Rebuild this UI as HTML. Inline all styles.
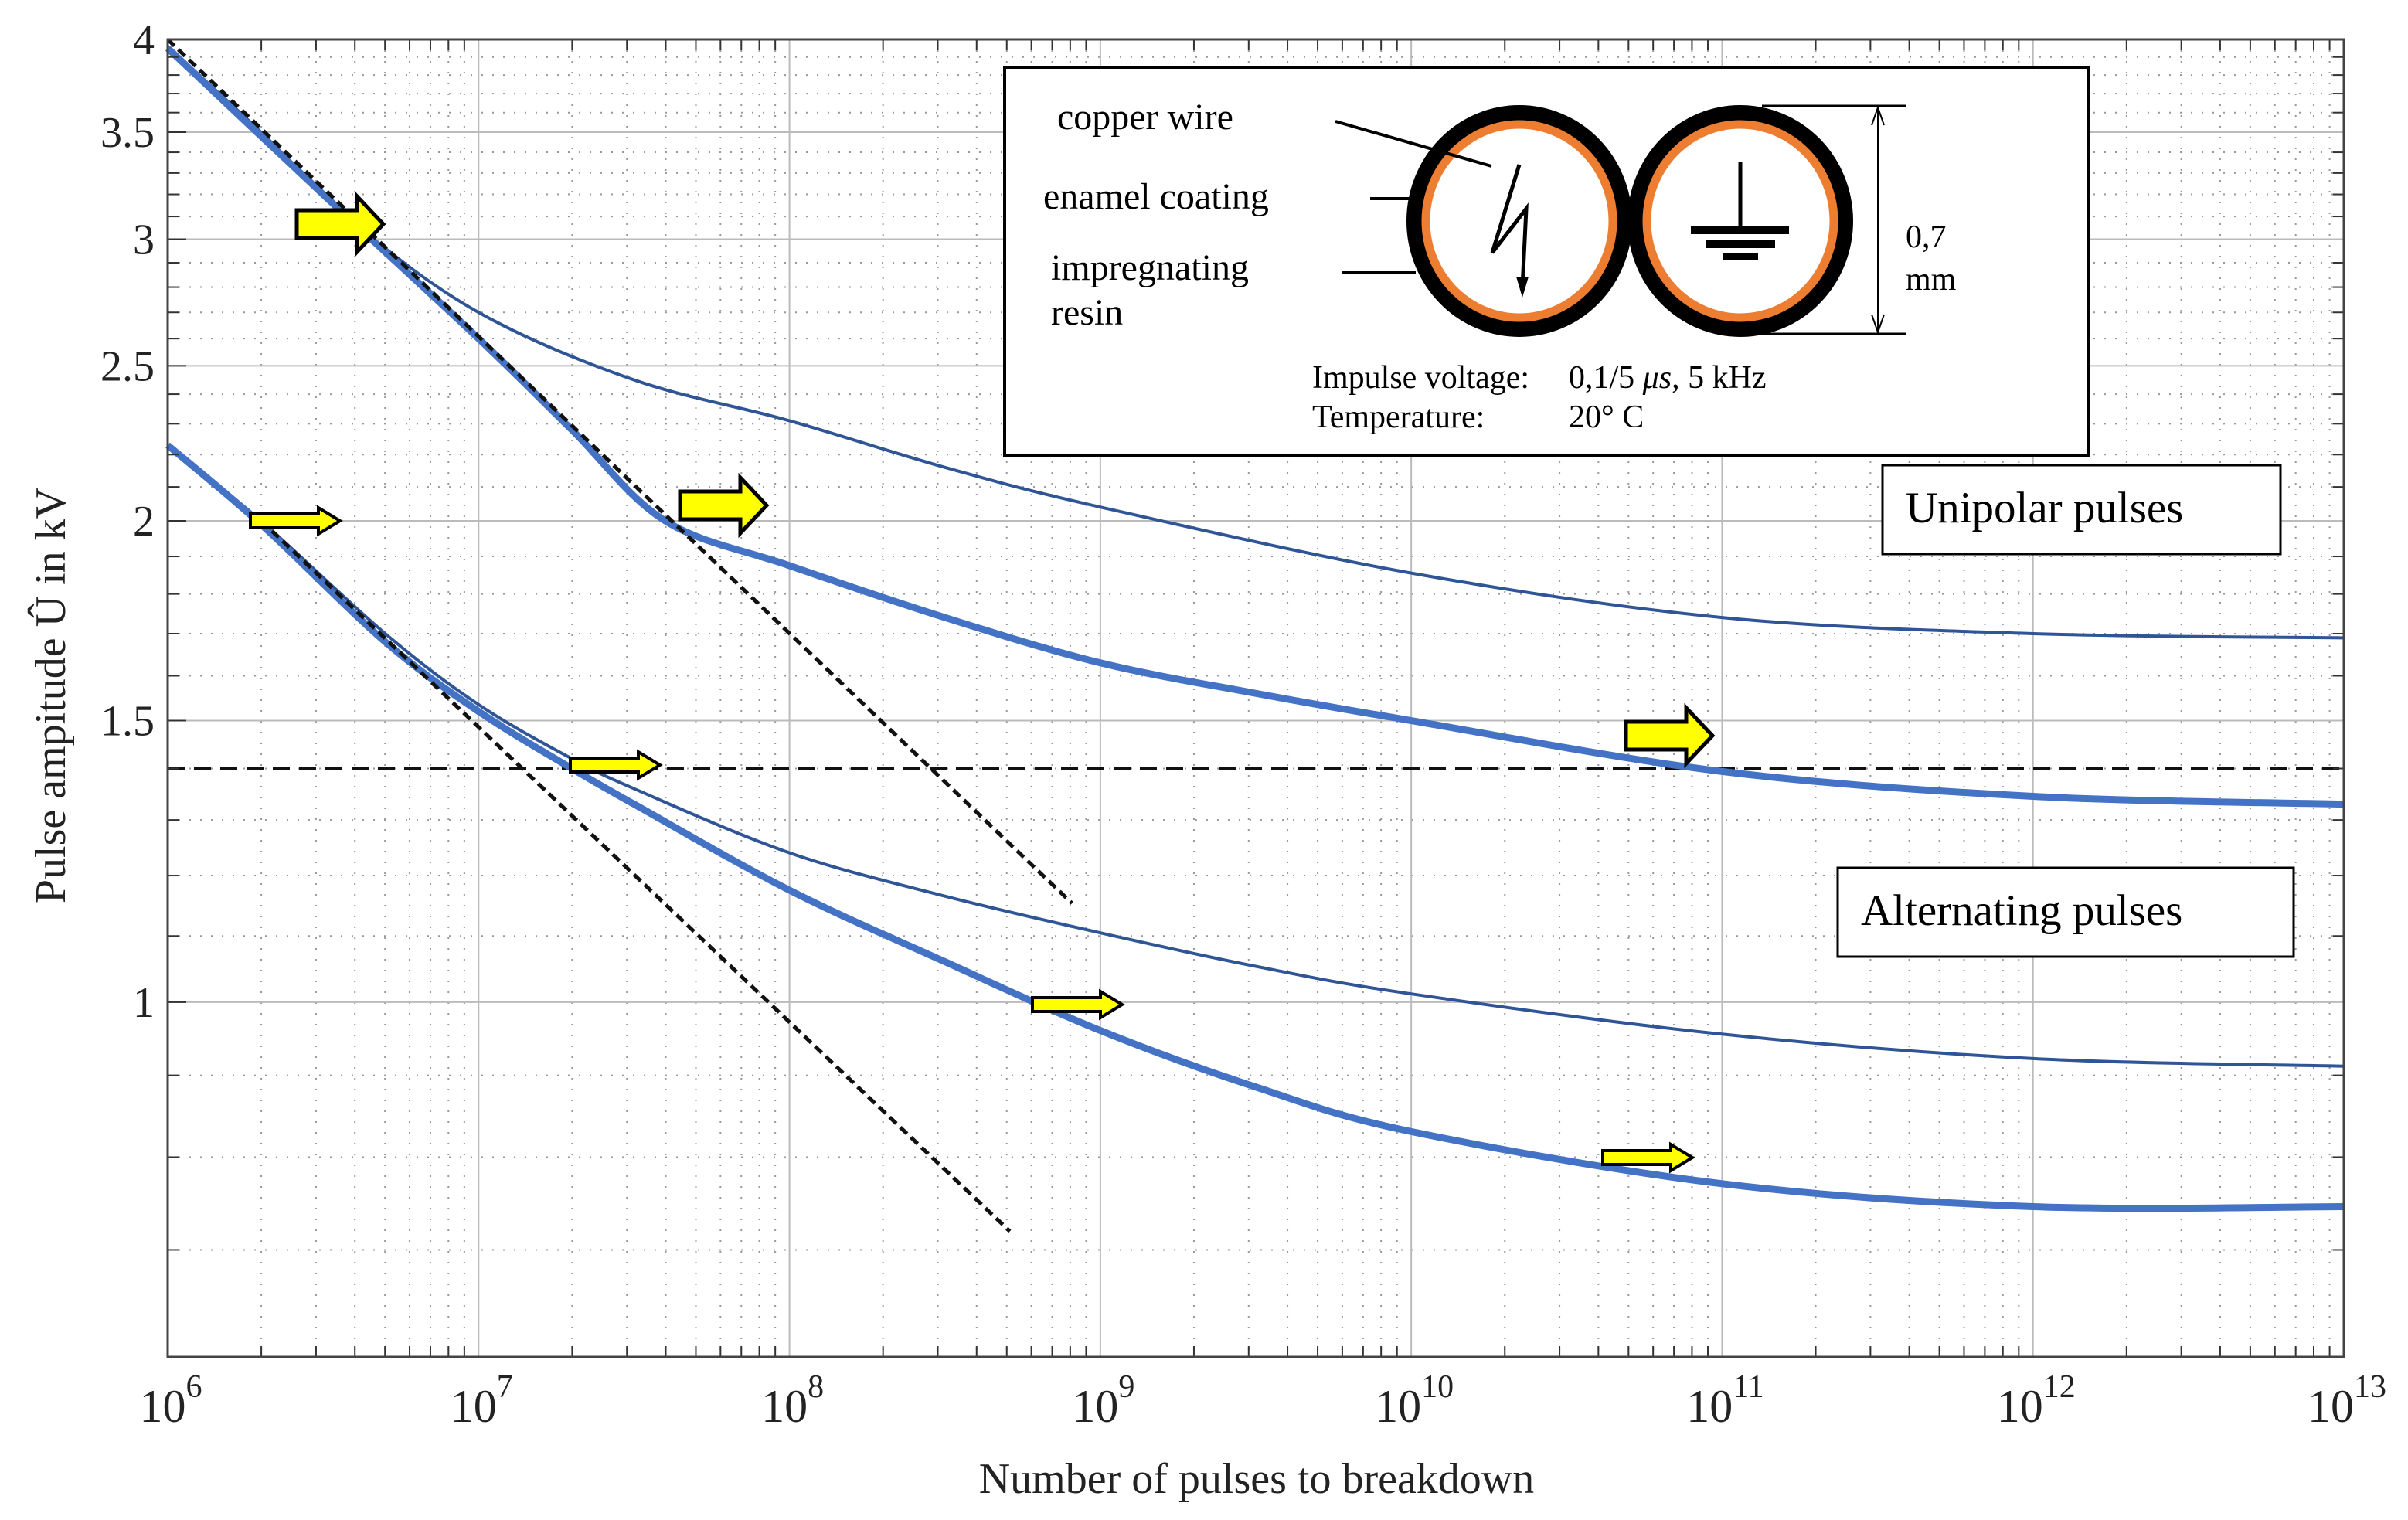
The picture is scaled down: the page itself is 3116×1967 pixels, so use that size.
<!DOCTYPE html>
<html><head><meta charset="utf-8"><style>
html,body{margin:0;padding:0;background:#fff;}
svg{display:block;font-family:"Liberation Serif",serif;}
</style></head><body>
<svg id="chart" width="3116" height="1967" viewBox="0 0 3116 1967" xmlns="http://www.w3.org/2000/svg">
<g id="grid"></g>
<g id="ref"></g>
<g id="series"></g>
<g id="arrows"></g>
<g id="axes"></g>

<g>
<rect x="1300" y="87" width="1402" height="502" fill="#fff" stroke="#000" stroke-width="4"/>
<g transform="translate(-10,0)">
<text x="1378" y="167" font-size="48">copper wire</text>
<text x="1360" y="270" font-size="48">enamel coating</text>
<text x="1370" y="362" font-size="48">impregnating</text>
<text x="1370" y="420" font-size="48">resin</text>
<ellipse cx="1976" cy="286" rx="136" ry="140" fill="none" stroke="#000" stroke-width="20"/>
<ellipse cx="1976" cy="286" rx="121" ry="125" fill="#fff" stroke="#ED7D31" stroke-width="11"/>
<ellipse cx="2262" cy="286" rx="136" ry="140" fill="none" stroke="#000" stroke-width="20"/>
<ellipse cx="2262" cy="286" rx="121" ry="125" fill="#fff" stroke="#ED7D31" stroke-width="11"/>
<line x1="1738" y1="157" x2="1940" y2="215" stroke="#000" stroke-width="4"/>
<line x1="1783" y1="257" x2="1852" y2="257" stroke="#000" stroke-width="4"/>
<line x1="1747" y1="353" x2="1842" y2="353" stroke="#000" stroke-width="4"/>
<polyline points="1976,213 1941,327 1985,270 1980,372" fill="none" stroke="#000" stroke-width="5"/>
<polygon points="1972,358 1988,358 1980,385" fill="#000"/>
<g>
<line x1="2262" y1="210" x2="2262" y2="295" stroke="#000" stroke-width="5"/>
<rect x="2198" y="293" width="127" height="10" fill="#000"/>
<rect x="2217" y="311" width="90" height="10" fill="#000"/>
<rect x="2239" y="327" width="46" height="10" fill="#000"/>
</g>
<g>
<line x1="2290" y1="137" x2="2476" y2="137" stroke="#000" stroke-width="3"/>
<line x1="2290" y1="432" x2="2476" y2="432" stroke="#000" stroke-width="3"/>
<line x1="2440" y1="139" x2="2440" y2="430" stroke="#000" stroke-width="2"/>
<polyline points="2432,162 2440,139 2448,162" fill="none" stroke="#000" stroke-width="2"/>
<polyline points="2432,407 2440,430 2448,407" fill="none" stroke="#000" stroke-width="2"/>
</g>
<text x="2476" y="320" font-size="42">0,7</text>
<text x="2476" y="375" font-size="42">mm</text>
<text x="1708" y="502" font-size="42">Impulse voltage:</text>
<text x="2040" y="502" font-size="42">0,1/5 <tspan font-style="italic">μs</tspan>, 5 kHz</text>
<text x="1708" y="553" font-size="42">Temperature:</text>
<text x="2040" y="553" font-size="42">20° C</text>
</g>
</g>

<g>
<rect x="2436" y="602" width="515" height="115" fill="#fff" stroke="#000" stroke-width="3"/>
<text x="2466" y="676" font-size="57">Unipolar pulses</text>
</g>
<g>
<rect x="2378" y="1123" width="590" height="115" fill="#fff" stroke="#000" stroke-width="3"/>
<text x="2408" y="1197" font-size="57">Alternating pulses</text>
</g>
<text x="1626" y="1932" font-size="56" text-anchor="middle" fill="#222">Number of pulses to breakdown</text>
<text transform="translate(84,900) rotate(-90)" font-size="56" text-anchor="middle" fill="#222">Pulse ampitude Û in kV</text>
</svg>
<script>
// data (x as log10 of pulse count, y in kV)
const unipolarThinX = [6, 6.3, 6.6, 7, 7.5, 8, 8.5, 9, 10, 11, 12, 13];
const unipolarThin = [3.96, 3.5, 3.07, 2.70, 2.45, 2.31, 2.16, 2.04, 1.855, 1.74, 1.70, 1.69];
const unipolarThickX = [6, 6.5, 7, 7.3, 7.6, 8, 8.5, 9, 9.5, 10, 11, 12, 13];
const unipolarThick = [3.95, 3.2, 2.60, 2.28, 2.0, 1.875, 1.74, 1.63, 1.56, 1.50, 1.394, 1.345, 1.33];
const alternatingX = [6, 6.3, 6.7, 7, 7.3, 7.5, 8, 8.5, 9, 9.5, 10, 11, 12, 13];
const alternatingThin = [2.23, 2.0, 1.70, 1.535, 1.42, 1.36, 1.24, 1.165, 1.105, 1.053, 1.012, 0.955, 0.922, 0.912];
const alternatingThick = [2.23, 1.99, 1.68, 1.52, 1.40, 1.33, 1.175, 1.06, 0.96, 0.885, 0.83, 0.77, 0.745, 0.745];
const dashUniX = [6, 8.909];
const dashUni = [4.0, 1.153];
const dashAltX = [6.301, 8.709];
const dashAlt = [2.0, 0.719];
const thresholdKV = 1.40;
const yTicks = [1, 1.5, 2, 2.5, 3, 3.5, 4];
const xTicks = [6, 7, 8, 9, 10, 11, 12, 13];

const NS = "http://www.w3.org/2000/svg";
const L = 217, R = 3033, T = 51, B = 1756;
const yMin = 0.6, yMax = 4;
function sx(lx){ return L + (lx - 6) / 7 * (R - L); }
function sy(v){ return B - (Math.log10(v) - Math.log10(yMin)) / (Math.log10(yMax) - Math.log10(yMin)) * (B - T); }
function mk(tag, attrs, parent){ const e = document.createElementNS(NS, tag); for (const k in attrs) e.setAttribute(k, attrs[k]); parent.appendChild(e); return e; }

const grid = document.getElementById('grid');
const axes = document.getElementById('axes');
for (let d = 6; d < 13; d++) for (let m = 2; m <= 9; m++) {
  const x = sx(d + Math.log10(m));
  const l = mk('line', {x1:x, y1:T, x2:x, y2:B, stroke:'#999', 'stroke-width':2, 'stroke-dasharray':'2 12'}, grid);
  
  
  mk('line', {x1:x, y1:B, x2:x, y2:B-14, stroke:'#333', 'stroke-width':2}, axes);
  mk('line', {x1:x, y1:T, x2:x, y2:T+14, stroke:'#333', 'stroke-width':2}, axes);
}
for (let v = 0.6; v < 4.001; v += 0.1) {
  const vv = Math.round(v*10)/10;
  if (yTicks.includes(vv)) continue;
  const y = sy(vv);
  const l = mk('line', {x1:L, y1:y, x2:R, y2:y, stroke:'#999', 'stroke-width':2, 'stroke-dasharray':'2 12'}, grid);
  
  
  mk('line', {x1:L, y1:y, x2:L+14, y2:y, stroke:'#333', 'stroke-width':2}, axes);
  mk('line', {x1:R, y1:y, x2:R-14, y2:y, stroke:'#333', 'stroke-width':2}, axes);
}
xTicks.forEach(t => {
  const x = sx(t);
  const l = mk('line', {x1:x, y1:T, x2:x, y2:B, stroke:'#bbb', 'stroke-width':2}, grid);
  
  
  const tx = mk('text', {x:x+4, y:1840, 'font-size':60, 'text-anchor':'middle', fill:'#222'}, axes);
  
  
  tx.textContent = '10';
  const sup = mk('tspan', {dy:-32, 'font-size':42}, tx);
  sup.textContent = String(t);
});
yTicks.forEach(t => {
  const y = sy(t);
  const l = mk('line', {x1:L, y1:y, x2:R, y2:y, stroke:'#bbb', 'stroke-width':2}, grid);
  
  
  mk('line', {x1:L, y1:y, x2:L+24, y2:y, stroke:'#333', 'stroke-width':2}, axes);
  const tx = mk('text', {x:200, y:y+19, 'font-size':56, 'text-anchor':'end', fill:'#222'}, axes);
  
  
  tx.textContent = String(t);
});
const frame = mk('rect', {x:L, y:T, width:R-L, height:B-T, fill:'none', stroke:'#444', 'stroke-width':3}, axes);



function pathFrom(xs, ys){
  const p = xs.map((x,i)=>[sx(x), sy(ys[i])]);
  let d = 'M' + p[0][0] + ',' + p[0][1];
  for (let i = 0; i < p.length-1; i++) {
    const p0 = p[Math.max(0,i-1)], p1 = p[i], p2 = p[i+1], p3 = p[Math.min(p.length-1,i+2)];
    const c1 = [p1[0] + (p2[0]-p0[0])/6, p1[1] + (p2[1]-p0[1])/6];
    const c2 = [p2[0] - (p3[0]-p1[0])/6, p2[1] - (p3[1]-p1[1])/6];
    d += ` C${c1[0]},${c1[1]} ${c2[0]},${c2[1]} ${p2[0]},${p2[1]}`;
  }
  return d;
}
const ref = document.getElementById('ref');
const series = document.getElementById('series');
const h = mk('line', {x1:L, y1:sy(thresholdKV), x2:R, y2:sy(thresholdKV), stroke:'#111', 'stroke-width':4, 'stroke-dasharray':'22 12'}, ref);



const s1 = mk('path', {d:pathFrom(unipolarThinX, unipolarThin), fill:'none', stroke:'#2F5597', 'stroke-width':4}, series);


const s3 = mk('path', {d:pathFrom(alternatingX, alternatingThin), fill:'none', stroke:'#2F5597', 'stroke-width':4}, series);


const s2 = mk('path', {d:pathFrom(unipolarThickX, unipolarThick), fill:'none', stroke:'#4472C4', 'stroke-width':9}, series);


const s4 = mk('path', {d:pathFrom(alternatingX, alternatingThick), fill:'none', stroke:'#4472C4', 'stroke-width':9}, series);


const d1 = mk('line', {x1:sx(dashUniX[0]), y1:sy(dashUni[0]), x2:sx(dashUniX[1]), y2:sy(dashUni[1]), stroke:'#111', 'stroke-width':5, 'stroke-dasharray':'12 7'}, series);


const d2 = mk('line', {x1:sx(dashAltX[0]), y1:sy(dashAlt[0]), x2:sx(dashAltX[1]), y2:sy(dashAlt[1]), stroke:'#111', 'stroke-width':5, 'stroke-dasharray':'12 7'}, series);



const arrowSpecs = [[384,290,1],[880,654,1],[2104,952,1],[324,674,0],[738,990,0],[1336,1300,0],[2074,1498,0]];
const ag = document.getElementById('arrows');
arrowSpecs.forEach(a => {
  const [x, y, big] = a;
  const len = big ? 112 : 116, bh = big ? 18 : 9, hh = big ? 36 : 17, hl = big ? 34 : 28;
  const pts = [[x,y-bh],[x+len-hl,y-bh],[x+len-hl,y-hh],[x+len,y],[x+len-hl,y+hh],[x+len-hl,y+bh],[x,y+bh]].map(p=>p.join(',')).join(' ');
  const el = mk('polygon', {points:pts, fill:'#FFFF00', stroke:'#000', 'stroke-width':big?5:4}, ag);
  
  
});
</script>
</body></html>
